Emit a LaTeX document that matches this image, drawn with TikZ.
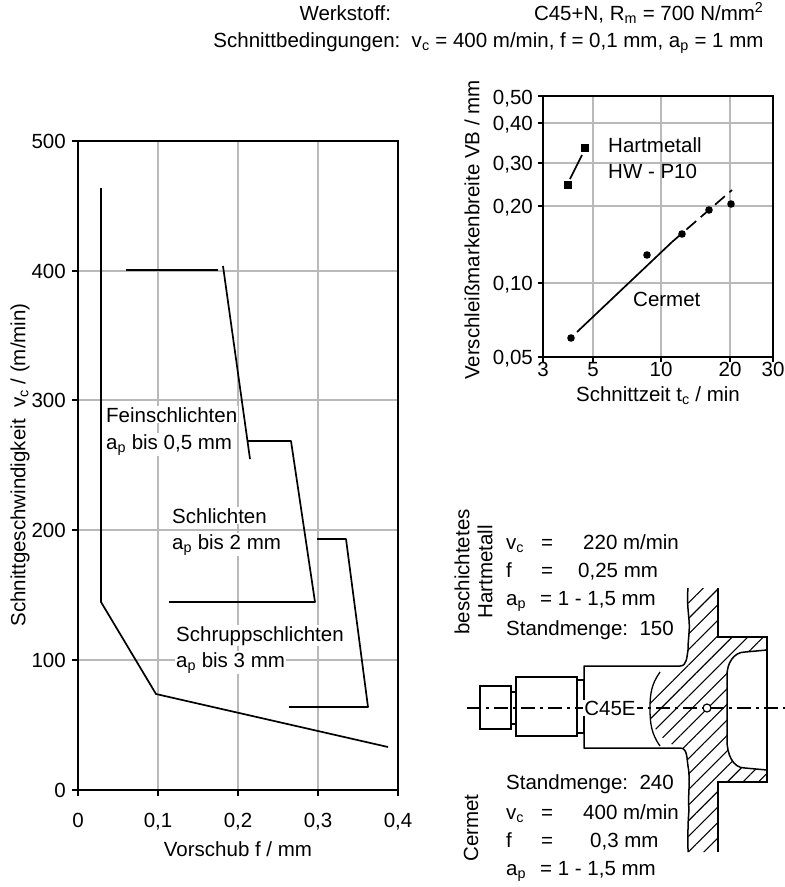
\documentclass[tikz,border=0pt]{standalone}
\usepackage{fontspec}
\setmainfont{Liberation Sans}
\usetikzlibrary{patterns.meta}
\begin{document}
\begin{tikzpicture}[x=1pt,y=-1pt,font=\fontsize{20.5}{23}\selectfont,
  grid/.style={gray!55,line width=1.2pt},
  curve/.style={line width=1.7pt,line join=round},
  lbl/.style={inner sep=1pt,anchor=base west},
  wlbl/.style={inner sep=1pt,anchor=base west,fill=white},
  tick/.style={inner sep=1pt}]
\useasboundingbox (0,0) rectangle (785,887);
% header
\node[anchor=base west] (h1) at (296,20) {Werkstoff:};
\node[anchor=base east] (h2) at (767,20) {C45+N, R\textsubscript{m} = 700 N/mm\textsuperscript{2}};
\node[anchor=base east] (h3) at (767,47) {Schnittbedingungen:\ \ v\textsubscript{c} = 400 m/min, f = 0,1 mm, a\textsubscript{p} = 1 mm};
% left chart grid
\foreach \x in {158,238,318} \draw[grid] (\x,141) -- (\x,790);
\foreach \y in {271,400,530,660} \draw[grid] (78,\y) -- (398,\y);
\draw[line width=1.5pt] (78,141) rectangle (398,790);
\foreach \x in {78,158,238,318,398} \draw[line width=1.5pt] (\x,790) -- (\x,796);
\foreach \y in {141,271,400,530,660,790} \draw[line width=1.5pt] (72,\y) -- (78,\y);
\foreach \x/\t in {78/0,158/{0,1},238/{0,2},318/{0,3},398/{0,4}} \node[tick,anchor=base] at (\x,827) {\t};
\foreach \y/\t in {141/500,271/400,400/300,530/200,660/100,790/0} \node[tick,anchor=base east] at (67,\y+7) {\t};
\node[rotate=90] (yl) at (20,465) {Schnittgeschwindigkeit\ \ v\textsubscript{c} / (m/min)};
\node[anchor=base] (xl) at (238,856) {Vorschub f / mm};
% curves
\draw[curve] (101,188) -- (101,602) -- (156,694) -- (388,747);
\draw[curve] (126,270) -- (218,270);
\draw[curve] (223,266) -- (250,459);
\draw[curve] (248,441) -- (291,441) -- (315,602) -- (169,602);
\draw[curve] (317,539) -- (346,539) -- (368,707) -- (289,707);
\node[wlbl] (fs) at (105,422) {Feinschlichten};
\node[wlbl] (fs2) at (105,449) {a\textsubscript{p} bis 0,5 mm};
\node[wlbl] (sl) at (171,523) {Schlichten};
\node[wlbl] (sl2) at (171,549) {a\textsubscript{p} bis 2 mm};
\node[wlbl] (sr) at (175,641) {Schruppschlichten};
\node[wlbl] (sr2) at (175,667) {a\textsubscript{p} bis 3 mm};
% right chart
\foreach \x in {593,661,730} \draw[grid] (\x,96) -- (\x,357);
\foreach \y in {123,163,206,283} \draw[grid] (543,\y) -- (773,\y);
\draw[line width=1.5pt] (543,96) rectangle (773,357);
\foreach \x in {543,593,661,730,773} \draw[line width=1.5pt] (\x,357) -- (\x,362);
\foreach \y in {96,123,163,206,283,357} \draw[line width=1.5pt] (538,\y) -- (543,\y);
\foreach \x/\t in {543/3,593/5,661/10,730/20,773/30} \node[tick,anchor=base] at (\x,376) {\t};
\foreach \y/\t in {97/{0,50},123/{0,40},163/{0,30},206/{0,20},283/{0,10},357/{0,05}} \node[tick,anchor=base east] at (534,\y+7) {\t};
\node[rotate=90] (yl2) at (472,230) {Verschleißmarkenbreite VB / mm};
\node[anchor=base] (xl2) at (658,401) {Schnittzeit t\textsubscript{c} / min};
\draw[curve] (570,179) -- (582,155);
\fill (564,181) rectangle +(8,8);
\fill (581,144) rectangle +(8,8);
\draw[curve] (577,332) -- (672,242);
\draw[curve,dash pattern=on 13pt off 6pt] (672,242) -- (732,190);
\foreach \p in {(571,338),(647,255),(682,234),(709,210),(731,204)} \fill \p circle (3.8);
\node[lbl] (hm) at (607,152) {Hartmetall};
\node[lbl] (hw) at (607,178) {HW - P10};
\node[lbl] (ce) at (632,306) {Cermet};
% part drawing
\path[pattern={Lines[angle=45,distance=11pt,line width=1.1pt]}]
 (688,588) -- (688,650) to[out=-100,in=0] (680,666) to[out=200,in=90] (650,708) to[out=-90,in=160] (680,748)
 to[out=0,in=100] (688,766) -- (688,852) -- (718,852) -- (718,782) -- (767,782) -- (767,770)
 -- (745,768) to[out=180,in=-90] (727,740) -- (727,675) to[out=90,in=180] (745,652) -- (767,650) -- (767,637) -- (718,637) -- (718,588) -- cycle;
\draw[line width=1.5pt,line join=round]
 (688,588) to[out=-95,in=95] (689,620) to[out=-85,in=90] (688,650) to[out=-100,in=0] (680,666) -- (584,666) -- (584,748) -- (680,748)
 to[out=0,in=100] (688,766) to[out=-80,in=95] (689,810) to[out=-95,in=90] (688,852);
\draw[line width=1.5pt] (718,588) -- (718,637) -- (767,637) -- (767,782) -- (718,782) -- (718,852);
\draw[line width=1.5pt] (767,650) -- (745,652) to[out=180,in=90] (727,675) -- (727,740) to[out=-90,in=180] (745,768) -- (767,770);
\draw[line width=1.3pt] (660,672) to[out=235,in=90] (650,708) to[out=-90,in=125] (660,746);
\draw[line width=1.5pt] (480,686) rectangle (511,729);
\draw[line width=1.5pt] (511,692) rectangle (516,724);
\draw[line width=1.5pt] (516,677) rectangle (577,736);
\draw[line width=1.5pt] (577,680) rectangle (584,733);
\draw[line width=1.3pt,dash pattern=on 14pt off 5pt on 3pt off 5pt] (467,708) -- (785,708);
\node[fill=white,inner sep=1pt] (c45) at (610,708) {C45E};
\draw[line width=1.2pt,fill=white] (707,708) circle (4);
% tool texts
\node[rotate=90] (bh1) at (462,572) {beschichtetes};
\node[rotate=90] (bh2) at (485,572) {Hartmetall};
\node[lbl] at (505,549) {v\textsubscript{c}};
\node[lbl] at (505,577) {f};
\node[lbl] at (505,605) {a\textsubscript{p}};
\node[lbl] at (540,549) {=};
\node[lbl] at (540,577) {=};
\node[lbl] at (539,605) {= 1 - 1,5 mm};
\node[lbl] at (582,549) {220 m/min};
\node[lbl] at (577,577) {0,25 mm};
\node[lbl] at (505,635) {Standmenge:\ \ 150};
\node[rotate=90] (cm) at (471,828) {Cermet};
\node[lbl] at (505,789) {Standmenge:\ \ 240};
\node[lbl] at (505,819) {v\textsubscript{c}};
\node[lbl] at (505,847) {f};
\node[lbl] at (505,875) {a\textsubscript{p}};
\node[lbl] at (540,819) {=};
\node[lbl] at (540,847) {=};
\node[lbl] at (539,875) {= 1 - 1,5 mm};
\node[lbl] at (582,819) {400 m/min};
\node[lbl] at (589,847) {0,3 mm};
\end{tikzpicture}
\end{document}
